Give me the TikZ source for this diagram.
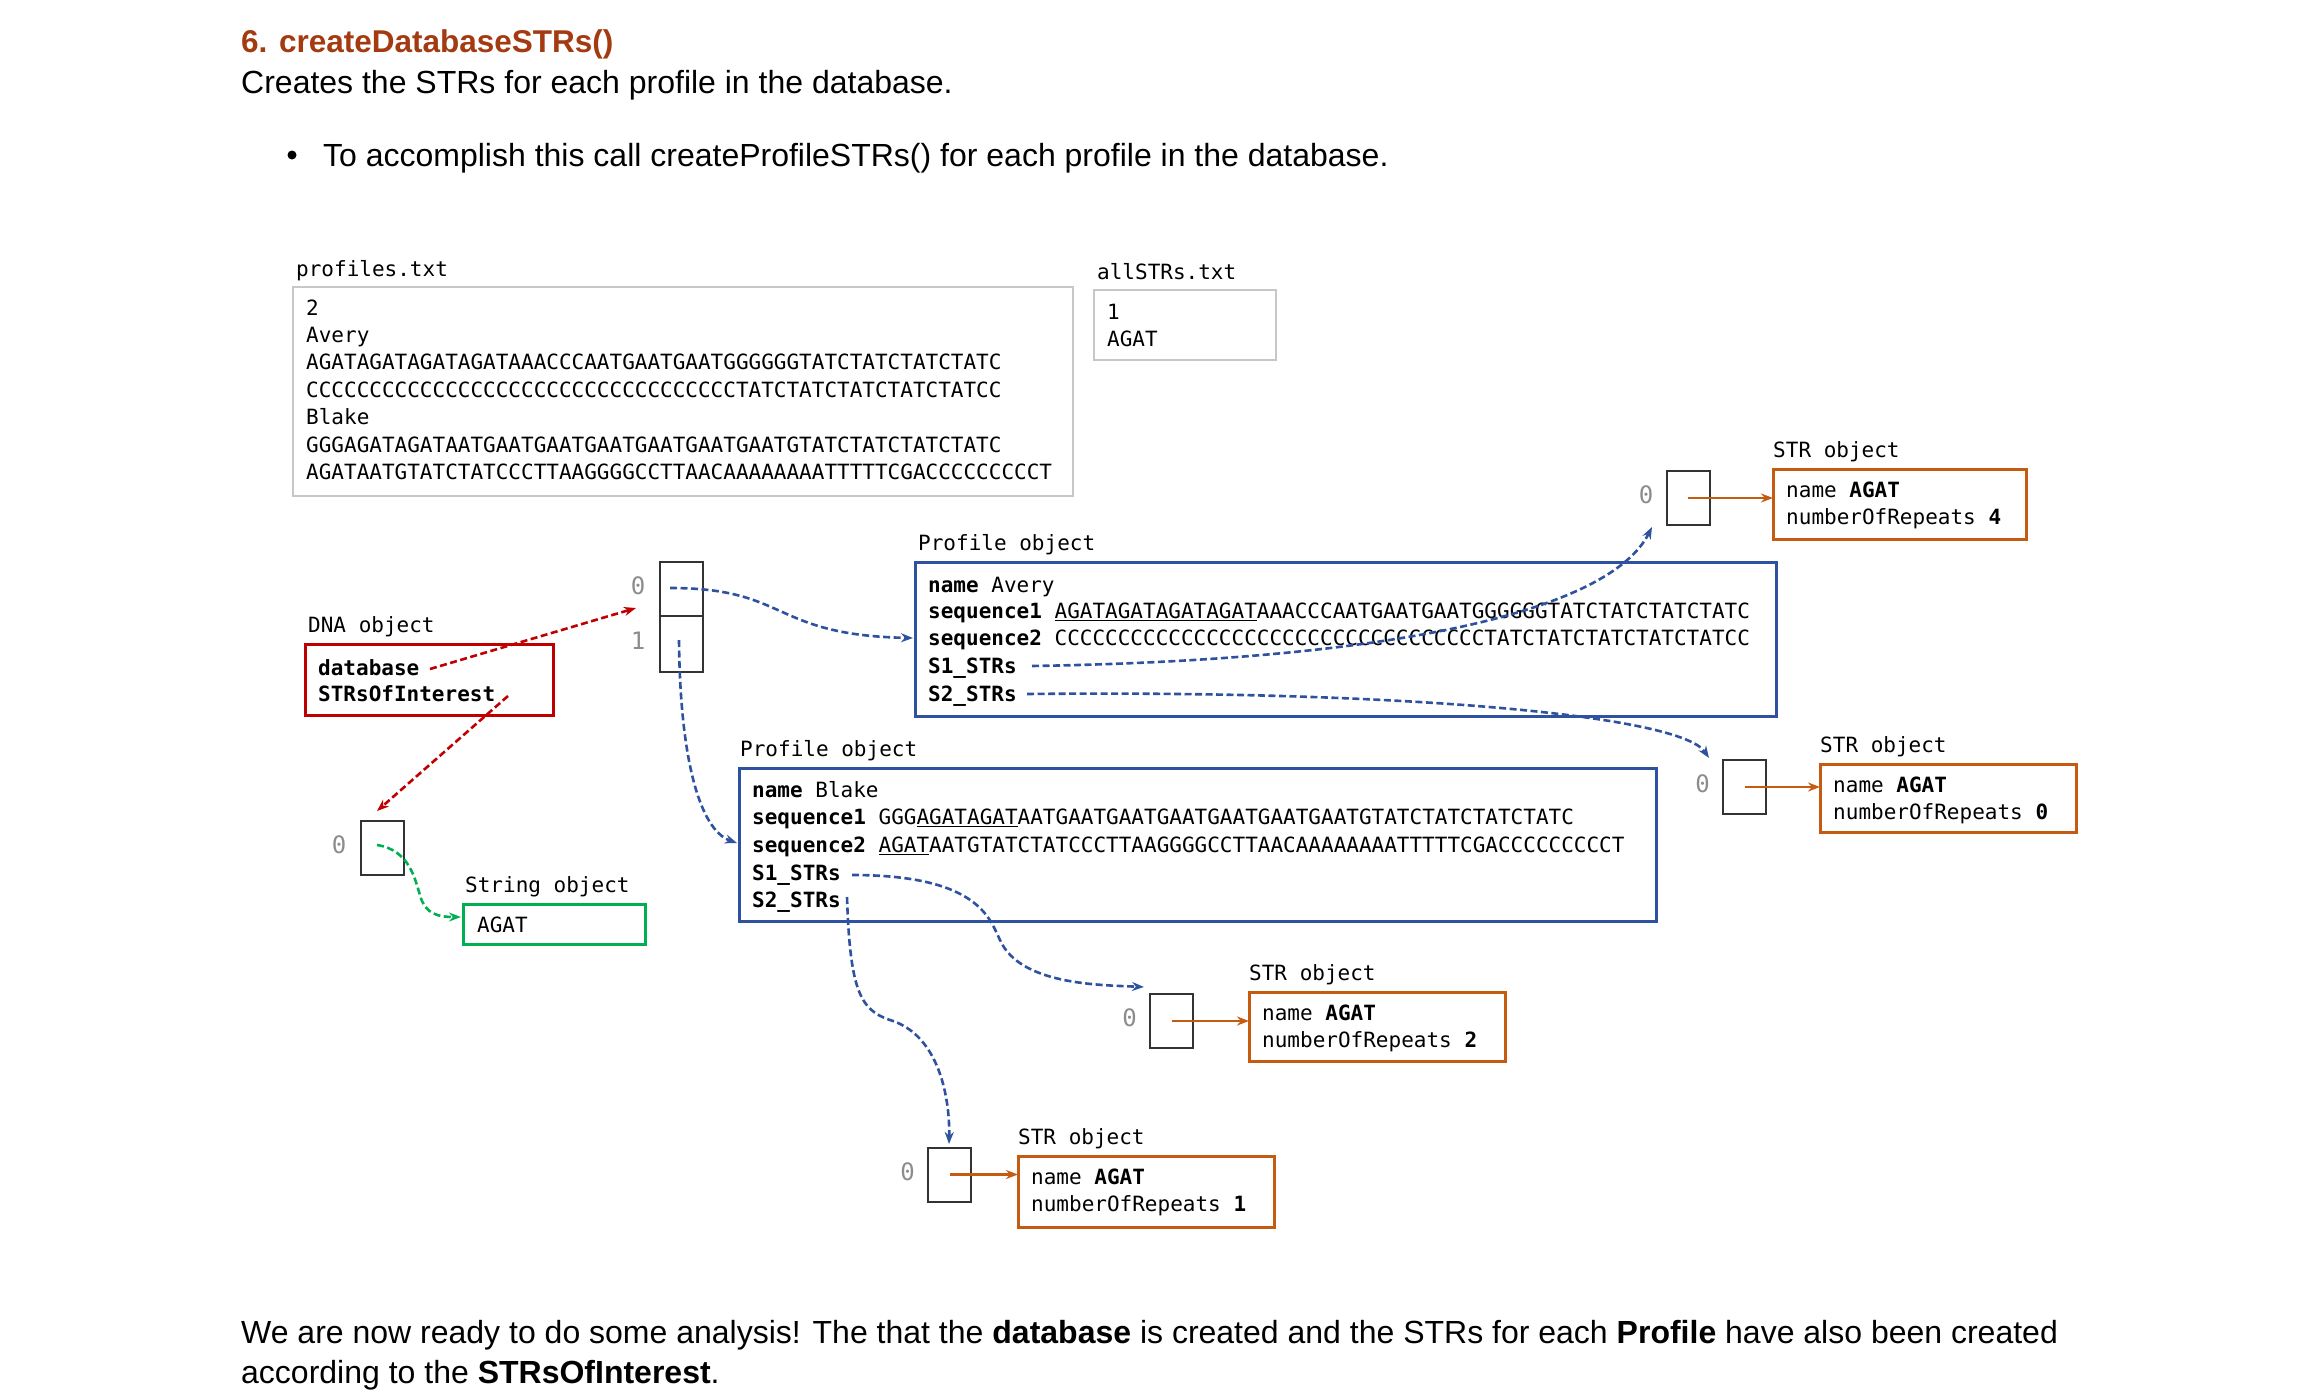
\documentclass[tikz,border=0pt]{standalone}
\usepackage{fontspec}
\setmainfont{Liberation Sans}
\newfontfamily\monof{DejaVu Sans Mono}
\usetikzlibrary{arrows.meta}
\definecolor{tbrown}{HTML}{A33A10}
\definecolor{oblue}{HTML}{2F52A0}
\definecolor{ored}{HTML}{C00000}
\definecolor{oorange}{HTML}{C55A11}
\definecolor{ogreen}{HTML}{00B050}
\definecolor{pgray}{HTML}{8C8C8C}
\tikzset{
  mono/.style={font=\monof\fontsize{21}{25}\selectfont, anchor=base west, inner sep=0pt},
  body/.style={font=\fontsize{32}{38}\selectfont, anchor=base west, inner sep=0pt},
  filebox/.style={draw=black!22, line width=2pt},
  pbox/.style={draw=oblue, line width=3pt},
  sbox/.style={draw=oorange, line width=3pt},
  dbox/.style={draw=ored, line width=3pt},
  gbox/.style={draw=ogreen, line width=3pt},
  ptr/.style={draw=black!80, line width=2pt},
  idx/.style={font=\monof\fontsize{24}{28}\selectfont, inner sep=0pt, text=pgray, anchor=center},
  conn/.style={line width=2.6pt, dash pattern=on 7pt off 3.5pt, -{Stealth[length=12pt,width=9pt]}},
  oarr/.style={draw=oorange, line width=2.8pt, -{Stealth[length=12pt,width=9pt]}},
}
\newcommand{\ul}[1]{\underline{#1}}
\begin{document}
\begin{tikzpicture}[x=1pt,y=-1pt]
\useasboundingbox (0,0) rectangle (2308,1392);
% heading
\node[body, font=\bfseries\fontsize{31.5}{36}\selectfont, text=tbrown] (title) at (241,52) {6. createDatabaseSTRs()};
\node[body] (sub) at (241,93) {Creates the STRs for each profile in the database.};
\fill (292,155) circle (4.5pt);
\node[body] (bul) at (323,166) {To accomplish this call createProfileSTRs() for each profile in the database.};
% profiles.txt
\node[mono] (plab) at (296,276) {profiles.txt};
\draw[filebox] (293,287) rectangle (1073,496);
\foreach \t [count=\i] in {2,Avery,AGATAGATAGATAGATAAACCCAATGAATGAATGGGGGGTATCTATCTATCTATC,CCCCCCCCCCCCCCCCCCCCCCCCCCCCCCCCCCTATCTATCTATCTATCTATCC,Blake,GGGAGATAGATAATGAATGAATGAATGAATGAATGAATGTATCTATCTATCTATC,AGATAATGTATCTATCCCTTAAGGGGCCTTAACAAAAAAAATTTTTCGACCCCCCCCCT}
  \node[mono] (pl\i) at (306,{315+27.4*(\i-1)}) {\t};
% allSTRs.txt
\node[mono] (alab) at (1097,279) {allSTRs.txt};
\draw[filebox] (1094,290) rectangle (1276,360);
\node[mono] (al1) at (1107,319) {1};
\node[mono] (al2) at (1107,346) {AGAT};
% DNA object
\node[mono] (dlab) at (308,632) {DNA object};
\draw[dbox] (305,644) rectangle (553,715);
\node[mono, font=\monof\bfseries\fontsize{21}{25}\selectfont] (ddb) at (318,675) {database};
\node[mono, font=\monof\bfseries\fontsize{21}{25}\selectfont] (dsi) at (318,701) {STRsOfInterest};
% array
\node[ptr, minimum width=43pt, minimum height=54pt, inner sep=0] (arr0) at (681.5,589) {};
\node[ptr, minimum width=43pt, minimum height=56pt, inner sep=0] (arr1) at (681.5,644) {};
\node[idx] (i0) at (638,586) {0};
\node[idx] (i1) at (638,641) {1};
% STRsOfInterest pointer
\node[ptr, minimum width=43pt, minimum height=54pt, inner sep=0] (sp) at (382.5,848) {};
\node[idx] (spi) at (339,845) {0};
\node[mono] (slab) at (465,892) {String object};
\draw[gbox] (463,904) rectangle (645,944);
\node[mono] (sagat) at (477,932) {AGAT};
% Profile Avery
\node[mono] (av) at (918,550) {Profile object};
\draw[pbox] (915,562) rectangle (1776,716);
\node[mono] (a1) at (928,592) {\textbf{name} Avery};
\node[mono] (a2) at (928,618) {\textbf{sequence1} \ul{AGATAGATAGATAGAT}AAACCCAATGAATGAATGGGGGGTATCTATCTATCTATC};
\node[mono] (a3) at (928,645) {\textbf{sequence2} CCCCCCCCCCCCCCCCCCCCCCCCCCCCCCCCCCTATCTATCTATCTATCTATCC};
\node[mono] (a4) at (928,673) {\textbf{S1\_STRs}};
\node[mono] (a5) at (928,701) {\textbf{S2\_STRs}};
% Profile Blake
\node[mono] (bl) at (740,756) {Profile object};
\draw[pbox] (739,768) rectangle (1656,921);
\node[mono] (b1) at (752,797) {\textbf{name} Blake};
\node[mono] (b2) at (752,824) {\textbf{sequence1} GGG\ul{AGATAGAT}AATGAATGAATGAATGAATGAATGAATGTATCTATCTATCTATC};
\node[mono] (b3) at (752,852) {\textbf{sequence2} \ul{AGAT}AATGTATCTATCCCTTAAGGGGCCTTAACAAAAAAAATTTTTCGACCCCCCCCCT};
\node[mono] (b4) at (752,880) {\textbf{S1\_STRs}};
\node[mono] (b5) at (752,907) {\textbf{S2\_STRs}};
% STR objects
\newcommand{\strobj}[9]{%
  \node[mono] (#1lab) at (#2,{#3-12}) {STR object};
  \draw[sbox] (#2,#3) rectangle (#4,#5);
  \node[mono] (#1n) at ({#2+13},{#3+28}) {name \textbf{AGAT}};
  \node[mono] (#1r) at ({#2+13},{#3+55}) {numberOfRepeats \textbf{#6}};
  \node[ptr, minimum width=43pt, minimum height=54pt, inner sep=0] (#1p) at (#7,#8) {};
  \node[idx] (#1i) at ({#7-42},{#8-3}) {0};
  \coordinate (#1in) at (#2,{#8});
  \draw[oarr] (#1p.center) -- (#1in);
}
\strobj{sa}{1773}{469}{2026}{539}{4}{1688}{498}{}
\strobj{sb}{1820}{764}{2076}{832}{0}{1744.5}{787}{}
\strobj{sc}{1249}{992}{1505}{1061}{2}{1171.5}{1021}{}
\strobj{sd}{1018}{1156}{1274}{1227}{1}{949.5}{1174.5}{}
% connectors
\coordinate (r1s) at (430,669); \coordinate (r1e) at (636,608);
\draw[conn, ored] (r1s) -- (r1e);
\coordinate (r2s) at (508,696); \coordinate (r2e) at (377,811);
\draw[conn, ored] (r2s) -- (r2e);
\coordinate (g1s) at (377,845); \coordinate (g1e) at (461,917);
\draw[conn, ogreen] (g1s) .. controls (410,850) and (415,880) .. (420,895) .. controls (425,915) and (440,917) .. (g1e);
\coordinate (c0s) at (670,588); \coordinate (c0e) at (913,638);
\draw[conn, oblue] (c0s) .. controls (790,588) and (770,635) .. (c0e);
\coordinate (c1s) at (679,640); \coordinate (c1e) at (737,843);
\draw[conn, oblue] (c1s) .. controls (680,760) and (700,830) .. (c1e);
\coordinate (as1) at (1032,666); \coordinate (as1e) at (1652,527);
\draw[conn, oblue] (as1) .. controls (1400,660) and (1610,610) .. (as1e);
\coordinate (as2) at (1027,694); \coordinate (as2e) at (1709,758);
\draw[conn, oblue] (as2) .. controls (1400,690) and (1680,715) .. (as2e);
\coordinate (bs1) at (852,875); \coordinate (bs1e) at (1144,987);
\draw[conn, oblue] (bs1) .. controls (980,875) and (990,920) .. (1000,940) .. controls (1020,985) and (1100,985) .. (bs1e);
\coordinate (bs2) at (847,897); \coordinate (bs2e) at (949,1144);
\draw[conn, oblue] (bs2) .. controls (850,990) and (860,1010) .. (890,1020) .. controls (940,1035) and (950,1100) .. (bs2e);
% bottom text
\node[body] (f1) at (241,1343) {We are now ready to do some analysis! The that the \textbf{database} is created and the STRs for each \textbf{Profile} have also been created};
\node[body] (f2) at (241,1383) {according to the \textbf{STRsOfInterest}.};
\end{tikzpicture}
\end{document}
